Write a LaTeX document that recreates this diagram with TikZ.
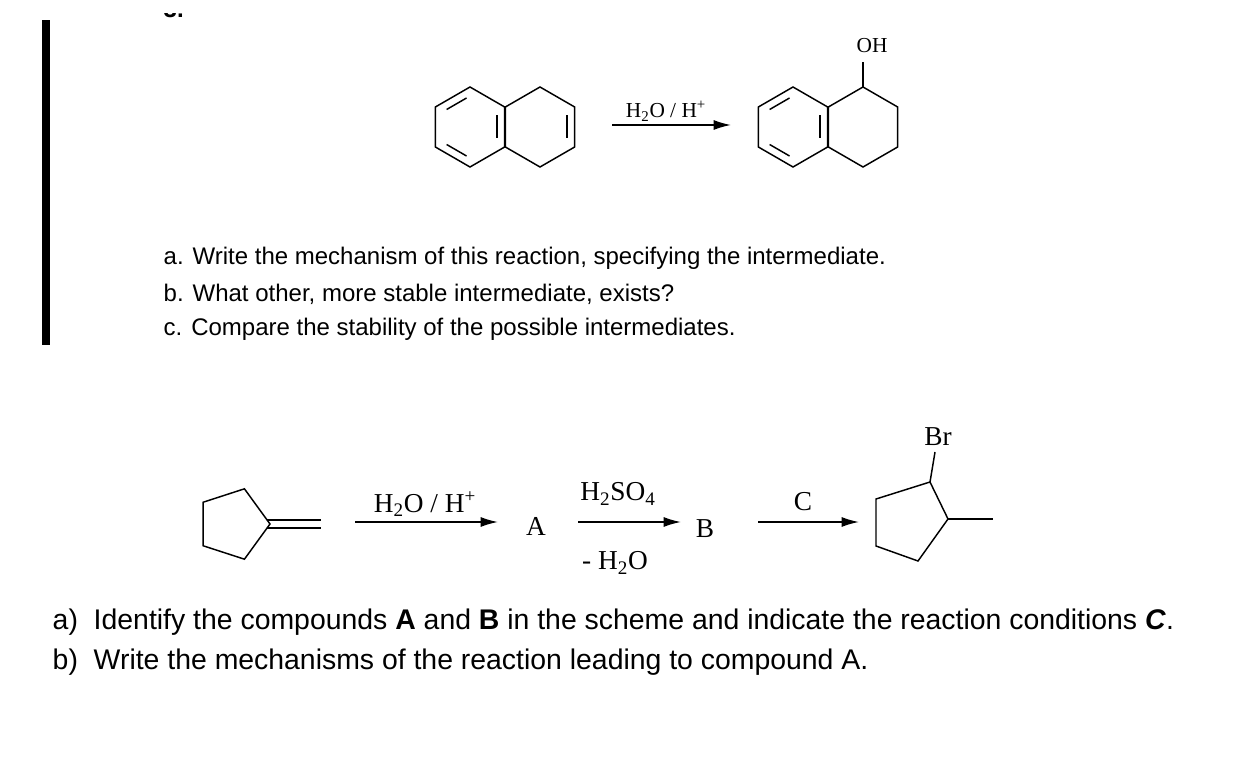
\documentclass[tikz,border=0pt]{standalone}
\usepackage{fontspec}
\usetikzlibrary{calc,arrows.meta}
\setmainfont{Liberation Sans}
\newfontfamily\chem{Liberation Serif}
\begin{document}
\begin{tikzpicture}[x=0.75pt,y=-0.75pt,line width=1.1pt,
  txt/.style={anchor=west,inner sep=0pt,font=\fontsize{18}{21}\selectfont},
  txtb/.style={anchor=west,inner sep=0pt,font=\fontsize{21.3}{24}\selectfont},
  ch/.style={inner sep=0pt,font=\chem\fontsize{16}{18}\selectfont},
  chb/.style={inner sep=0pt,font=\chem\fontsize{20.5}{22}\selectfont},
  rxn/.style={-{Latex[length=13pt,width=7.5pt]},line width=1.2pt}]
\useasboundingbox (0,0) rectangle (1248,762);
\fill[black] (42,20) rectangle (50,345);
\begin{scope}
\clip (150,14) rectangle (200,40);
\node[txt,font=\bfseries\fontsize{18}{21}\selectfont] (three) at (163,9) {3.};
\end{scope}
\def\s{40}
\def\r{31}
\foreach \cx/\nm in {470/a,540/b,793/c,863/d}{
  \foreach \i in {1,...,6}{
    \coordinate (\nm\i) at ({\cx+\s*cos(90-60*(\i-1))},{127-\s*sin(90-60*(\i-1))});
    \coordinate (\nm i\i) at ({\cx+\r*cos(90-60*(\i-1))},{127-\r*sin(90-60*(\i-1))});
  }
  \draw (\nm1)--(\nm2)--(\nm3)--(\nm4)--(\nm5)--(\nm6)--cycle;
}
\foreach \nm in {a,c}{
  \draw[shorten <=3pt,shorten >=3pt] (\nm i6) -- (\nm i1);
  \draw[shorten <=3pt,shorten >=3pt] (\nm i4) -- (\nm i5);
  \draw[shorten <=3pt,shorten >=3pt] (\nm i2) -- (\nm i3);
}
\draw[shorten <=3pt,shorten >=3pt] (bi2) -- (bi3);
\coordinate (ohb) at (863,62);
\draw (d1) -- (ohb);
\node[ch] (oh) at (872,46) {OH};
\coordinate (t1s) at (612,125); \coordinate (t1e) at (731,125);
\draw[rxn] (t1s) -- (t1e);
\node[ch] (t1l) at (666,111) {H\textsubscript{2}O / H\textsuperscript{+}};
\node[txt] (qa) at (163,258) {a. Write the mechanism of this reaction, specifying the intermediate.};
\node[txt] (qb) at (163,294) {b. What other, more stable intermediate, exists?};
\node[txt] (qc) at (163,329) {c. Compare the stability of the possible intermediates.};
\foreach \i in {0,...,4}{\coordinate (p\i) at ({233+37*cos(72*\i)},{524-37*sin(72*\i)});}
\draw (p0)--(p1)--(p2)--(p3)--(p4)--cycle;
\coordinate (ex0a) at (267,520); \coordinate (ex0b) at (267,528);
\coordinate (ex1) at (321,520); \coordinate (ex2) at (321,528);
\draw (ex0a) -- (ex1);
\draw (ex0b) -- (ex2);
\coordinate (b1s) at (355,522); \coordinate (b1e) at (498,522);
\draw[rxn] (b1s) -- (b1e);
\node[chb] (b1l) at (425,504) {H\textsubscript{2}O / H\textsuperscript{+}};
\node[chb] (A) at (536,526) {A};
\coordinate (b2s) at (578,522); \coordinate (b2e) at (681,522);
\draw[rxn] (b2s) -- (b2e);
\node[chb] (b2l) at (618,494) {H\textsubscript{2}SO\textsubscript{4}};
\node[chb] (b2m) at (615,563) {- H\textsubscript{2}O};
\node[chb] (B) at (705,529) {B};
\coordinate (b3s) at (758,522); \coordinate (b3e) at (859,522);
\draw[rxn] (b3s) -- (b3e);
\node[chb] (Cl) at (803,502) {C};
\coordinate (q1) at (930,482); \coordinate (q2) at (876,499);
\coordinate (q3) at (876,546); \coordinate (q4) at (918,561);
\coordinate (q5) at (948,519);
\draw (q1)--(q2)--(q3)--(q4)--(q5)--cycle;
\coordinate (brb) at (935,452); \coordinate (me) at (993,519);
\draw (q1)--(brb); \draw (q5)--(me);
\node[chb] (br) at (938,437) {Br};
\node[txtb] (ra) at (52,622) {a)\ \ Identify the compounds \textbf{A} and \textbf{B} in the scheme and indicate the reaction conditions \textbf{\textit{C}}.};
\node[txtb] (rb) at (52,662) {b)\ \ Write the mechanisms of the reaction leading to compound A.};
\end{tikzpicture}
\end{document}
